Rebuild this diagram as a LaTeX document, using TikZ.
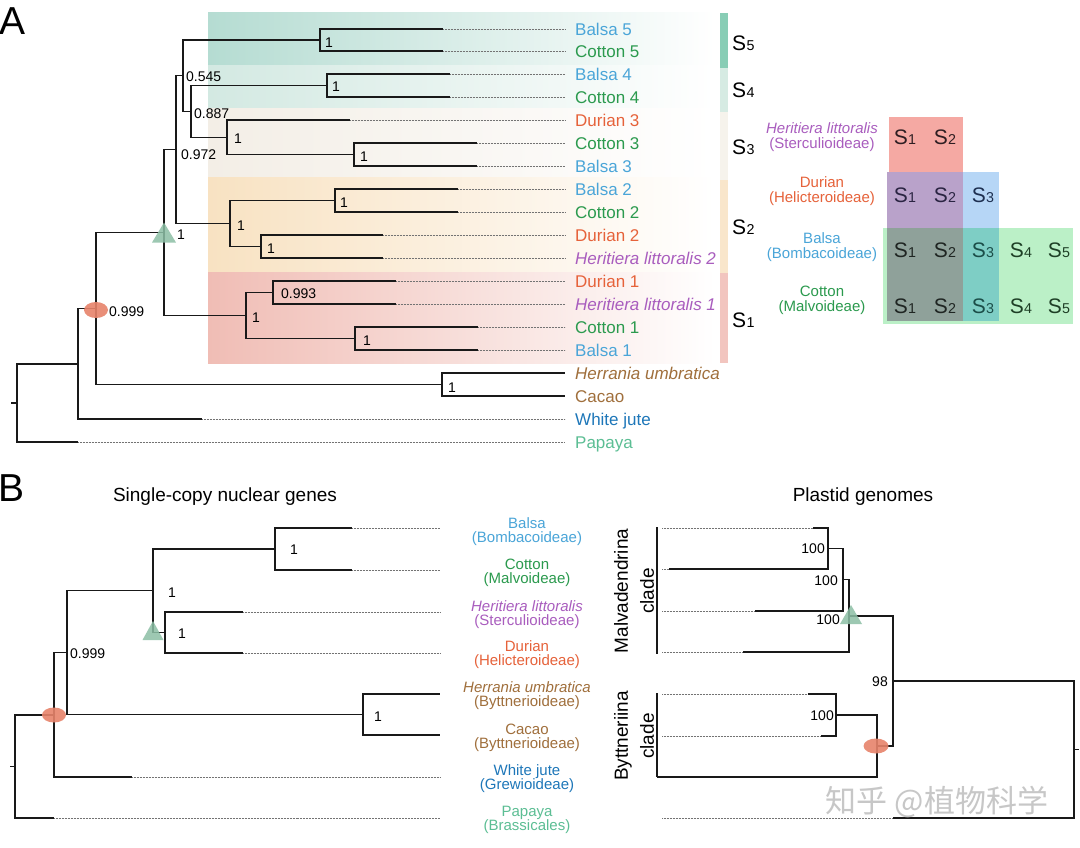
\documentclass[tikz,border=0pt]{standalone}
\usepackage{fontspec}
\setmainfont{Liberation Sans}
\newfontfamily\cjkfont{Noto Sans CJK SC}
\usetikzlibrary{shapes.geometric}
\newcommand{\myfs}[2]{\fontsize{#1}{#2}\selectfont}
\newcommand{\Sx}[1]{S\kern0.4pt\scalebox{0.68}{#1}}
\definecolor{cbalsa}{HTML}{4AA5D8}
\definecolor{ccotton}{HTML}{2B9A4E}
\definecolor{cdurian}{HTML}{E6623A}
\definecolor{cherit}{HTML}{A95DBE}
\definecolor{cherr}{HTML}{A06F3C}
\definecolor{cjute}{HTML}{1E77B9}
\definecolor{cpapaya}{HTML}{5CBE94}
\definecolor{ctri}{HTML}{8CBFA5}
\definecolor{cell}{HTML}{E7836B}
\definecolor{bandA}{HTML}{B5DCD2}
\definecolor{bandB}{HTML}{D3E9E2}
\definecolor{bandC}{HTML}{F3EEE6}
\definecolor{bandD}{HTML}{F8E2C2}
\definecolor{bandE}{HTML}{F0BDB5}
\definecolor{barA}{HTML}{88CDB5}
\definecolor{barB}{HTML}{D6EBE3}
\definecolor{barC}{HTML}{F6F3EC}
\definecolor{barD}{HTML}{F9E6CB}
\definecolor{barE}{HTML}{F2C5BF}
\definecolor{mR}{HTML}{F5A9A3}
\definecolor{mRB}{HTML}{B9A2CA}
\definecolor{mB}{HTML}{B6D6F6}
\definecolor{mRBG}{HTML}{8FA19A}
\definecolor{mBG}{HTML}{7ECEC5}
\definecolor{mG}{HTML}{BBF0C7}
\definecolor{tR}{HTML}{2E1E22}
\definecolor{tRB}{HTML}{2A2442}
\definecolor{tB}{HTML}{1D2F50}
\definecolor{tRBG}{HTML}{1F2522}
\definecolor{tBG}{HTML}{1B4D48}
\definecolor{tG}{HTML}{1E3F26}
\tikzset{
  br/.style={line width=1.4pt, draw=black!90},
  dotline/.style={draw=black!55, line width=0.6pt, dash pattern=on 0.6pt off 0.9pt},
  leaf/.style={anchor=west, inner sep=0pt, font=\myfs{17}{20}, text height=12.2pt, text depth=0pt},
  supp/.style={anchor=west, inner sep=0pt, font=\myfs{14}{16}, text height=10pt, text depth=0pt},
  suppr/.style={supp, anchor=east},
  twol/.style={align=center, inner sep=0pt, font=\myfs{15}{14}},
  twom/.style={align=center, inner sep=0pt, font=\myfs{15}{15.5}},
  bigS/.style={inner sep=0pt, font=\myfs{21}{24}, text height=15pt, text depth=0pt},
  trimark/.style={fill=ctri, fill opacity=0.85},
  ellmark/.style={fill=cell, fill opacity=0.9},
  title/.style={inner sep=0pt, font=\myfs{19}{22}},
  panel/.style={inner sep=0pt, font=\myfs{39}{40}},
}
\begin{document}
\begin{tikzpicture}[x=1pt,y=-1pt]
\fill[white] (0,0) rectangle (1080,847);
\path[use as bounding box] (0,0) rectangle (1080,847);

% ================= Panel A =================
\node[panel] (pA) at (12.5,21) {A};

% colour bands
\shade[left color=bandA, right color=white] (208,12) rectangle (715,65);
\shade[left color=bandB, right color=white] (208,65) rectangle (715,108);
\shade[left color=bandC, right color=white] (208,108) rectangle (715,177);
\shade[left color=bandD, right color=white] (208,177) rectangle (715,272);
\shade[left color=bandE, right color=white] (208,272) rectangle (715,363);

% side bars
\fill[barA] (720,13) rectangle (728,68);
\fill[barB] (720,68) rectangle (728,112);
\fill[barC] (720,112) rectangle (728,180);
\fill[barD] (720,180) rectangle (728,273);
\fill[barE] (720,273) rectangle (728,363);
\node[bigS, anchor=west] (sb5) at (732,43) {\Sx{5}};
\node[bigS, anchor=west] (sb4) at (732,90) {\Sx{4}};
\node[bigS, anchor=west] (sb3) at (732,147) {\Sx{3}};
\node[bigS, anchor=west] (sb2) at (732,227) {\Sx{2}};
\node[bigS, anchor=west] (sb1) at (732,320) {\Sx{1}};

% tree A coordinates
\coordinate (Ab5) at (443,29);
\coordinate (Ac5) at (443,51);
\coordinate (An5) at (320,40);
\coordinate (Ab4) at (450,74);
\coordinate (Ac4) at (450,97);
\coordinate (An4) at (327,85.5);
\coordinate (Ad3) at (350,120);
\coordinate (Ac3) at (477,143);
\coordinate (Ab3) at (477,166);
\coordinate (An3a) at (354,154.5);
\coordinate (An3) at (227,137.25);
\coordinate (An34) at (191,111.4);
\coordinate (AnX) at (183,75.7);
\coordinate (Ab2) at (458,189);
\coordinate (Ac2) at (458,212);
\coordinate (An2a) at (335,200.5);
\coordinate (Ad2) at (383,235);
\coordinate (Ah2) at (383,258);
\coordinate (An2b) at (261,246.5);
\coordinate (An2) at (230,223.5);
\coordinate (An972) at (176,149.6);
\coordinate (Ad1) at (396,281);
\coordinate (Ah1) at (396,304);
\coordinate (An1a) at (273,292.5);
\coordinate (Aco1) at (478,327);
\coordinate (Aba1) at (478,350);
\coordinate (An1b) at (355,338.5);
\coordinate (An1) at (246,315.5);
\coordinate (AnT) at (164,232.5);
\coordinate (Ahu) at (565,373);
\coordinate (Aca) at (565,396);
\coordinate (AnHC) at (442,384.5);
\coordinate (An999) at (96,308.5);
\coordinate (Awj) at (202,419);
\coordinate (An78) at (78,363.8);
\coordinate (Apa) at (78,442);
\coordinate (Aroot) at (17,403);
\coordinate (Atick) at (11,403);

% leaf labels A
\node[leaf, text=cbalsa] (LAb5) at (575,29) {Balsa 5};
\node[leaf, text=ccotton] (LAc5) at (575,51) {Cotton 5};
\node[leaf, text=cbalsa] (LAb4) at (575,74) {Balsa 4};
\node[leaf, text=ccotton] (LAc4) at (575,97) {Cotton 4};
\node[leaf, text=cdurian] (LAd3) at (575,120) {Durian 3};
\node[leaf, text=ccotton] (LAc3) at (575,143) {Cotton 3};
\node[leaf, text=cbalsa] (LAb3) at (575,166) {Balsa 3};
\node[leaf, text=cbalsa] (LAb2) at (575,189) {Balsa 2};
\node[leaf, text=ccotton] (LAc2) at (575,212) {Cotton 2};
\node[leaf, text=cdurian] (LAd2) at (575,235) {Durian 2};
\node[leaf, text=cherit] (LAh2) at (575,258) {\itshape Heritiera littoralis 2};
\node[leaf, text=cdurian] (LAd1) at (575,281) {Durian 1};
\node[leaf, text=cherit] (LAh1) at (575,304) {\itshape Heritiera littoralis 1};
\node[leaf, text=ccotton] (LAco1) at (575,327) {Cotton 1};
\node[leaf, text=cbalsa] (LAba1) at (575,350) {Balsa 1};
\node[leaf, text=cherr] (LAhu) at (575,373) {\itshape Herrania umbratica};
\node[leaf, text=cherr] (LAca) at (575,396) {Cacao};
\node[leaf, text=cjute] (LAwj) at (575,419) {White jute};
\node[leaf, text=cpapaya] (LApa) at (575,442) {Papaya};

% dotted leaders A
\foreach \n in {Ab5,Ac5,Ab4,Ac4,Ad3,Ac3,Ab3,Ab2,Ac2,Ad2,Ah2,Ad1,Ah1,Aco1,Aba1,Awj,Apa}
  \draw[dotline, shorten >=10pt] (\n) -- (L\n.west |- \n);

% branches A
\foreach \p/\c in {An5/Ab5, An5/Ac5, An4/Ab4, An4/Ac4, An3a/Ac3, An3a/Ab3,
  An3/Ad3, An3/An3a, An34/An4, An34/An3, AnX/An5, AnX/An34,
  An2a/Ab2, An2a/Ac2, An2b/Ad2, An2b/Ah2, An2/An2a, An2/An2b,
  An972/AnX, An972/An2, An1a/Ad1, An1a/Ah1, An1b/Aco1, An1b/Aba1,
  An1/An1a, An1/An1b, AnT/An972, AnT/An1, AnHC/Ahu, AnHC/Aca,
  An999/AnT, An999/AnHC, An78/An999, An78/Awj, Aroot/An78, Aroot/Apa}
  \draw[br] (\p) |- (\c);
\draw[br] (Aroot) -- (Atick);

% markers A
\fill[trimark] (AnT) ++(-12,10) -- ++(24,0) -- ++(-12,-20) -- cycle;
\fill[ellmark] (96,310) ellipse [x radius=12pt, y radius=8pt];

% support values A
\node[supp] (vA5) at (325,42) {1};
\node[supp] (vA4) at (332,86.5) {1};
\node[supp] (vA3a) at (360,156) {1};
\node[supp] (vA3) at (234,138) {1};
\node[supp] (vA34) at (194,113.5) {0.887};
\node[supp] (vAX) at (186,76.5) {0.545};
\node[supp] (vA972) at (181,154) {0.972};
\node[supp] (vA2a) at (340,202) {1};
\node[supp] (vA2) at (237,225) {1};
\node[supp] (vAT) at (177,234) {1};
\node[supp] (vA2b) at (267,248.5) {1};
\node[supp] (vA1a) at (281,293.5) {0.993};
\node[supp] (vA1) at (252,317) {1};
\node[supp] (vA1b) at (363,340) {1};
\node[supp] (vAHC) at (448,387) {1};
\node[supp] (vA999) at (109,311) {0.999};

% matrix
\fill[mR] (889,117) rectangle (963,172);
\fill[mRB] (887,172) rectangle (963,228);
\fill[mB] (963,172) rectangle (999,228);
\fill[mG] (883,228) rectangle (1073,324);
\fill[mRBG] (887,228) rectangle (963,321);
\fill[mBG] (963,228) rectangle (999,321);

\node[twom, text=cherit] (gH) at (822,137) {{\itshape Heritiera littoralis}\\(Sterculioideae)};
\node[twom, text=cdurian] (gD) at (822,191) {Durian\\(Helicteroideae)};
\node[twom, text=cbalsa] (gB) at (822,247) {Balsa\\(Bombacoideae)};
\node[twom, text=ccotton] (gC) at (822,300.5) {Cotton\\(Malvoideae)};

\node[bigS, text=tR] (m11) at (905,137) {\Sx{1}};
\node[bigS, text=tR] (m12) at (945,137) {\Sx{2}};
\node[bigS, text=tRB] (m21) at (905,195) {\Sx{1}};
\node[bigS, text=tRB] (m22) at (945,195) {\Sx{2}};
\node[bigS, text=tB] (m23) at (983,195) {\Sx{3}};
\node[bigS, text=tRBG] (m31) at (905,250) {\Sx{1}};
\node[bigS, text=tRBG] (m32) at (945,250) {\Sx{2}};
\node[bigS, text=tBG] (m33) at (983,250) {\Sx{3}};
\node[bigS, text=tG] (m34) at (1021,250) {\Sx{4}};
\node[bigS, text=tG] (m35) at (1059,250) {\Sx{5}};
\node[bigS, text=tRBG] (m41) at (905,306) {\Sx{1}};
\node[bigS, text=tRBG] (m42) at (945,306) {\Sx{2}};
\node[bigS, text=tBG] (m43) at (983,306) {\Sx{3}};
\node[bigS, text=tG] (m44) at (1021,306) {\Sx{4}};
\node[bigS, text=tG] (m45) at (1059,306) {\Sx{5}};

% ================= Panel B =================
\node[panel] (pB) at (12,488) {B};
\node[title] (t1) at (225,497) {Single-copy nuclear genes};
\node[title] (t2) at (863,497) {Plastid genomes};

% left tree
\coordinate (Bb) at (352,528);
\coordinate (Bc) at (352,570);
\coordinate (Bm1) at (275,549);
\coordinate (Bh) at (243,612);
\coordinate (Bd) at (243,653);
\coordinate (Bm2) at (165,632.5);
\coordinate (Bm3) at (153,590.75);
\coordinate (Bhu) at (440,694);
\coordinate (Bca) at (440,735);
\coordinate (Bm4) at (363,714.5);
\coordinate (Bm5) at (67,652.6);
\coordinate (Bw) at (132,777);
\coordinate (Bm6) at (54,714.8);
\coordinate (Bp) at (54,818);
\coordinate (Broot) at (15,766.4);
\coordinate (Btick) at (10,766.4);

\foreach \n/\y in {Bb/528, Bc/570, Bh/612, Bd/653, Bw/777, Bp/818}{
  \coordinate (\n e) at (440,\y);
  \draw[dotline] (\n) -- (\n e);
}
\foreach \p/\c in {Bm1/Bb, Bm1/Bc, Bm2/Bh, Bm2/Bd, Bm3/Bm1, Bm3/Bm2,
  Bm4/Bhu, Bm4/Bca, Bm5/Bm3, Bm5/Bm4, Bm6/Bm5, Bm6/Bw, Broot/Bm6, Broot/Bp}
  \draw[br] (\p) |- (\c);
\draw[br] (Broot) -- (Btick);

\fill[trimark] (153,630.5) ++(-10.5,9.5) -- ++(21,0) -- ++(-10.5,-19) -- cycle;
\fill[ellmark] (54,715) ellipse [x radius=12pt, y radius=7.5pt];

\node[supp] (vB1) at (290,549) {1};
\node[supp] (vB3) at (168,592) {1};
\node[supp] (vB2) at (178,633) {1};
\node[supp] (vB5) at (70,653) {0.999};
\node[supp] (vB4) at (374,716) {1};

% middle labels
\node[twol, text=cbalsa] (LBb) at (527,531.5) {Balsa\\(Bombacoideae)};
\node[twol, text=ccotton] (LBc) at (527,573) {Cotton\\(Malvoideae)};
\node[twol, text=cherit] (LBh) at (527,614.5) {{\itshape Heritiera littoralis}\\(Sterculioideae)};
\node[twol, text=cdurian] (LBd) at (527,655) {Durian\\(Helicteroideae)};
\node[twol, text=cherr] (LBhu) at (527,696) {{\itshape Herrania umbratica}\\(Byttnerioideae)};
\node[twol, text=cherr] (LBca) at (527,737.5) {Cacao\\(Byttnerioideae)};
\node[twol, text=cjute] (LBw) at (527,779) {White jute\\(Grewioideae)};
\node[twol, text=cpapaya] (LBp) at (527,820) {Papaya\\(Brassicales)};

% right tree
\coordinate (Rr1) at (813,528);
\coordinate (Rr2) at (669,569);
\coordinate (Rp1) at (828,548.5);
\coordinate (Rr3) at (755,611);
\coordinate (Rp2) at (843,579.75);
\coordinate (Rr4) at (743,652);
\coordinate (Rp3) at (849,615.9);
\coordinate (Rr5) at (808,694);
\coordinate (Rr6) at (821,736);
\coordinate (Rp4) at (836,715);
\coordinate (Rr7) at (657,777);
\coordinate (Rp5) at (877,746);
\coordinate (Rp6) at (893,680.95);
\coordinate (Rr8) at (893,818);
\coordinate (Rroot) at (1074,749.5);
\coordinate (Rtick) at (1079,749.5);

\foreach \n/\y in {Rr1/528, Rr2/569, Rr3/611, Rr4/652, Rr5/694, Rr6/736, Rr8/818}{
  \coordinate (\n s) at (662,\y);
  \draw[dotline] (\n s) -- (\n);
}
\foreach \p/\c in {Rp1/Rr1, Rp1/Rr2, Rp2/Rp1, Rp2/Rr3, Rp3/Rp2, Rp3/Rr4,
  Rp4/Rr5, Rp4/Rr6, Rp5/Rp4, Rp5/Rr7, Rp6/Rp3, Rp6/Rp5, Rroot/Rp6, Rroot/Rr8}
  \draw[br] (\p) |- (\c);
\draw[br] (Rroot) -- (Rtick);

% clade brackets
\coordinate (cMt) at (657,527.3);
\coordinate (cMb) at (657,653.5);
\coordinate (cBt) at (657,693.3);
\coordinate (cBb) at (657,777);
\draw[br] (cMt) -- (cMb);
\draw[br] (cBt) -- (cBb);
\node[rotate=90, align=center, inner sep=0pt, font=\myfs{19}{26}] (cM) at (634,591) {Malvadendrina\\clade};
\node[rotate=90, align=center, inner sep=0pt, font=\myfs{19}{26}] (cB) at (634,736) {Byttneriina\\clade};

\node[suppr] (vR1) at (825,548.5) {100};
\node[suppr] (vR2) at (838,580.5) {100};
\node[suppr] (vR3) at (840,619.5) {100};
\node[suppr] (vR6) at (888,681.5) {98};
\node[suppr] (vR4) at (834,715.5) {100};

\fill[trimark] (851,614.5) ++(-11,9.5) -- ++(22,0) -- ++(-11,-19) -- cycle;
\fill[ellmark] (876,746) ellipse [x radius=12.5pt, y radius=7.5pt];

% watermark
\node[inner sep=0pt, font=\cjkfont\myfs{31}{31}, text=black!22] (wm) at (937,802) {知乎 @植物科学};
\end{tikzpicture}
\end{document}
